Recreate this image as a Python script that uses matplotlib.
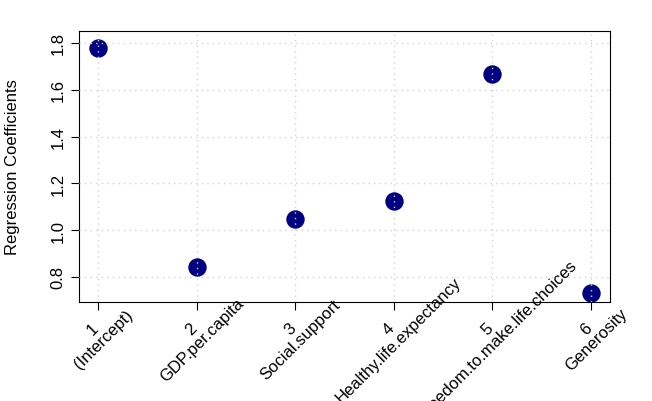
import matplotlib.pyplot as plt
import numpy as np

plt.rcParams['font.family'] = ['Liberation Sans', 'DejaVu Sans']

idx = [1, 2, 3, 4, 5, 6]
names = ["(Intercept)", "GDP.per.capita", "Social.support",
         "Healthy.life.expectancy", "Freedom.to.make.life.choices", "Generosity"]
coefs = [1.777, 0.843, 1.047, 1.124, 1.666, 0.732]

fig = plt.figure(figsize=(6.52, 4.02), dpi=100)
ax = fig.add_axes([79/652, 1-303/402, (610-79)/652, (303-32)/402])

ax.scatter(idx, coefs, s=150, color='#000080', zorder=2)
ax.set_xlim(0.807, 6.193)
ax.set_ylim(0.693, 1.851)

yt = [0.8, 1.0, 1.2, 1.4, 1.6, 1.8]
ax.set_yticks(yt)
ax.set_yticklabels([f"{v:.1f}" for v in yt], rotation=90, va='center', fontsize=12)
ax.set_xticks(idx)
ax.set_xticklabels([])
ax.tick_params(length=6, color='black')
for v in yt:
    ax.axhline(v, color='#d3d3d3', ls=(0, (1, 3)), lw=1, zorder=3)
for v in idx:
    ax.axvline(v, color='#d3d3d3', ls=(0, (1, 3)), lw=1, zorder=3)

for i, n in zip(idx, names):
    ax.text(i, -0.118, f"{i}\n{n}", transform=ax.get_xaxis_transform(),
            rotation=45, ha='center', va='center', ma='center', fontsize=12,
            rotation_mode='anchor', clip_on=False, linespacing=0.95)

ax.set_ylabel("Regression Coefficients", fontsize=12, labelpad=22)
for s in ax.spines.values():
    s.set_linewidth(0.8)

fig.savefig("out.png", dpi=100)
